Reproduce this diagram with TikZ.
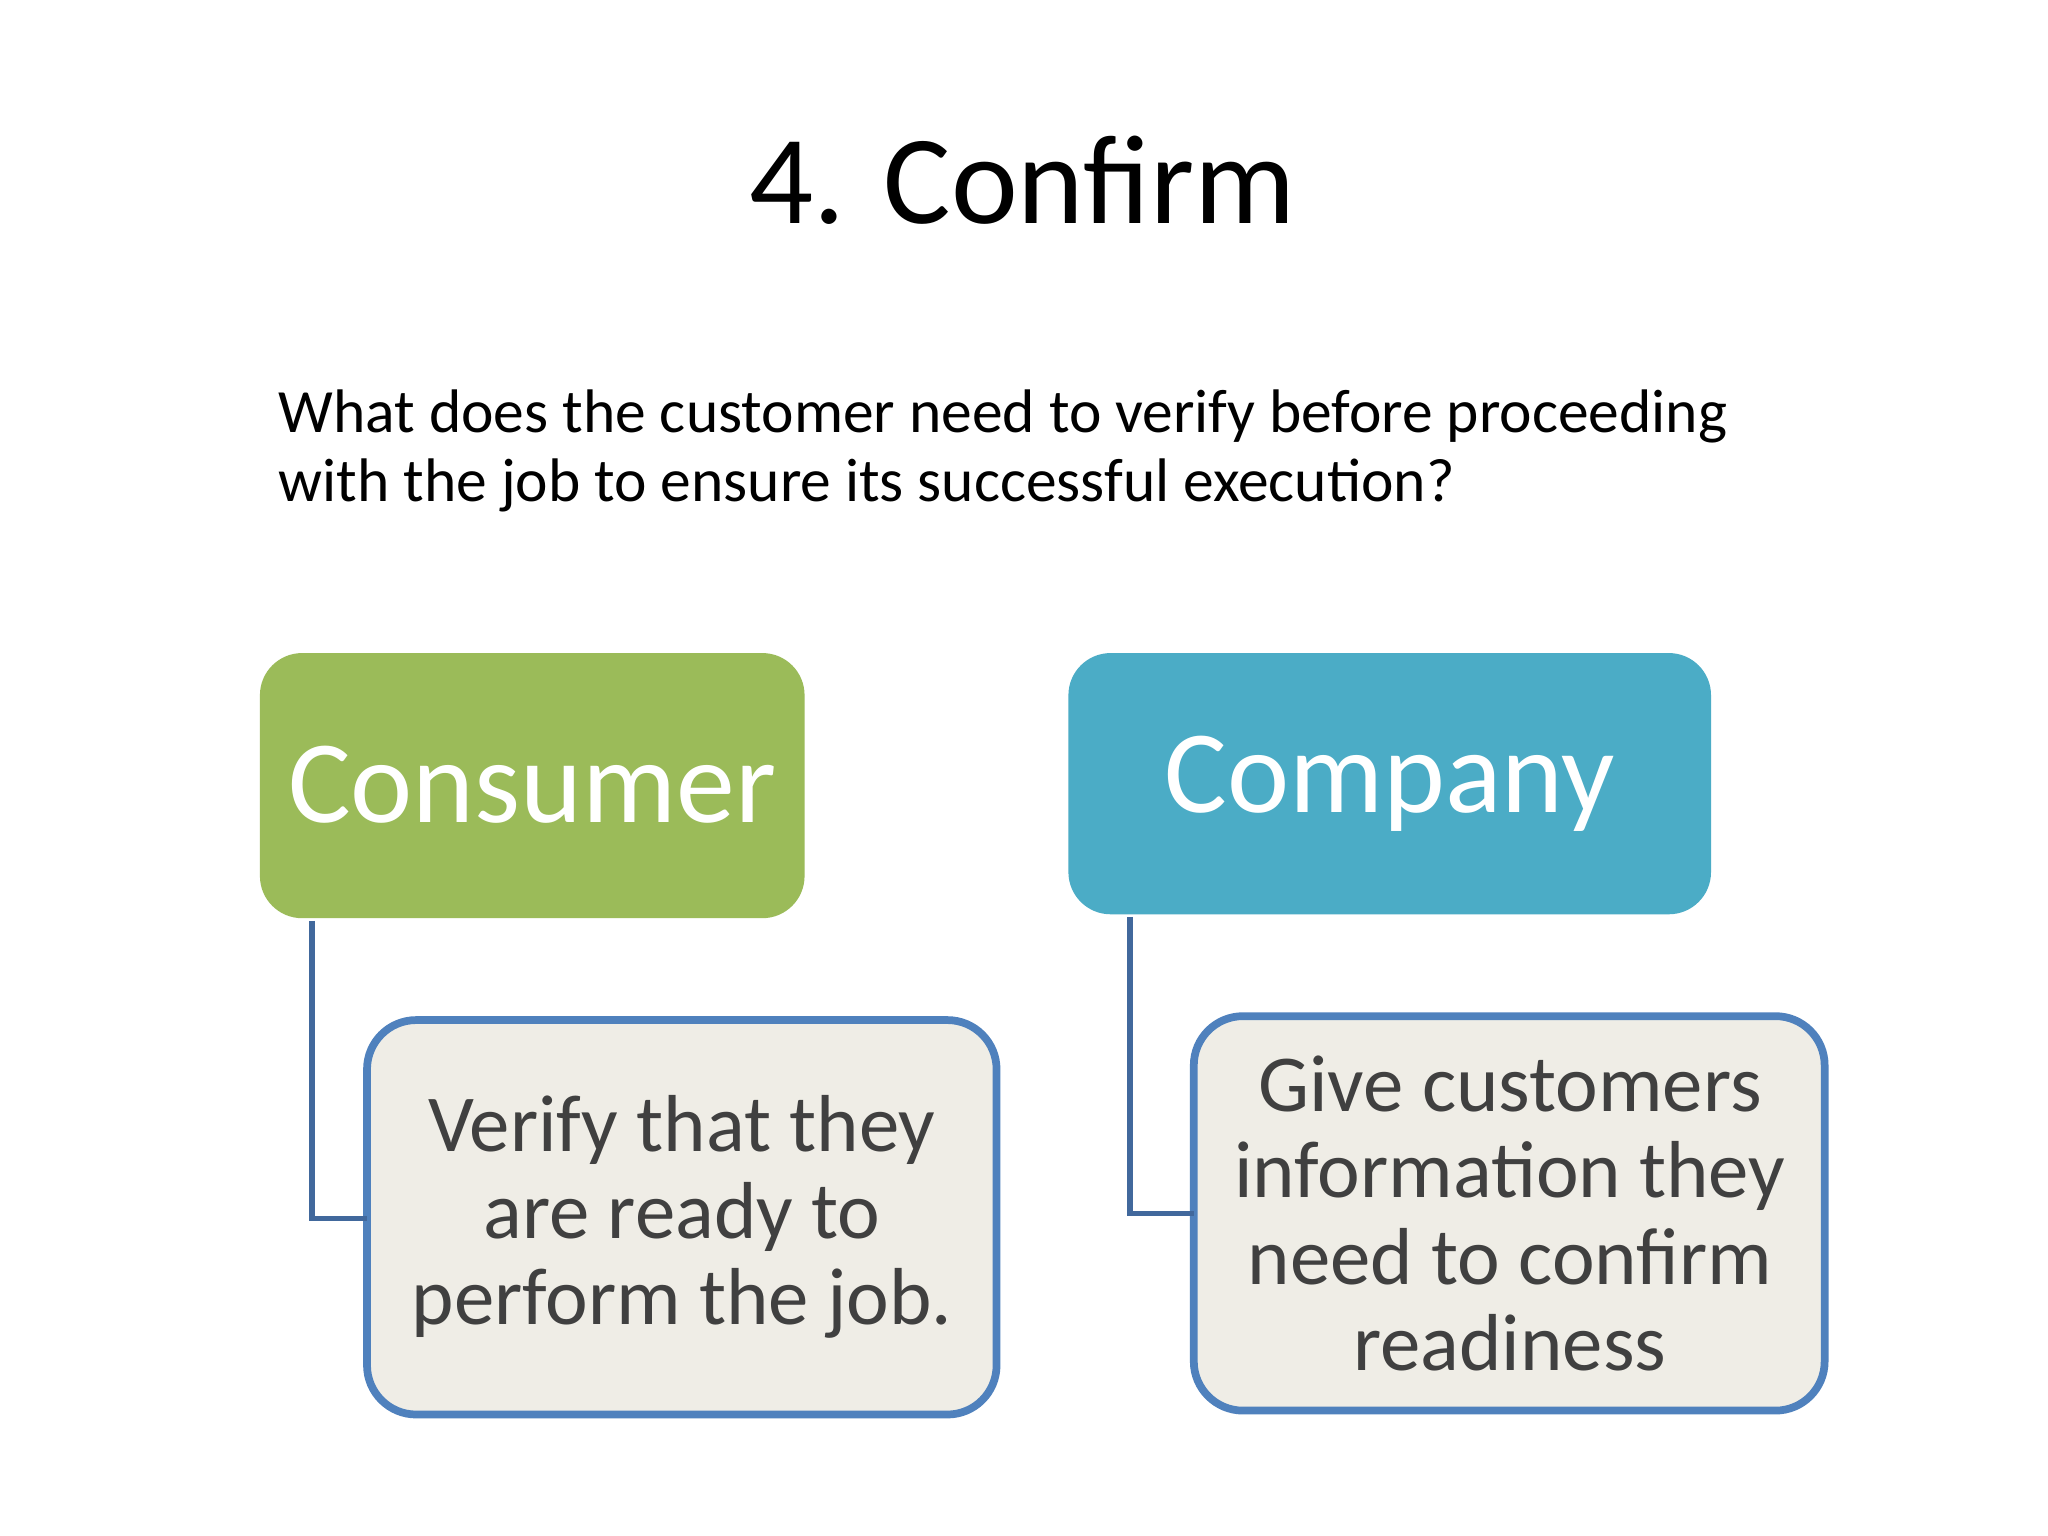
\documentclass[tikz,border=0pt]{standalone}
\usepackage{fontspec}
\setmainfont{Carlito}
\definecolor{cgreen}{HTML}{9BBB59}
\definecolor{cblue}{HTML}{4BACC6}
\definecolor{cfill}{HTML}{EFEDE6}
\definecolor{cborder}{HTML}{4F81BD}
\definecolor{cline}{HTML}{41689C}
\definecolor{ctext}{HTML}{404040}
\begin{document}
\begin{tikzpicture}[x=0.013061cm,y=-0.013061cm,
  head/.style={rounded corners=12pt,text=white,font=\fontsize{33.5}{40}\selectfont,inner sep=0pt},
  sub/.style={rounded corners=14pt,draw=cborder,line width=2.2pt,fill=cfill,text=ctext,align=center,font=\fontsize{23}{24.6}\selectfont,inner sep=0pt},
  conn/.style={draw=cline,line width=1.6pt}]
\useasboundingbox[fill=white] (0,0) rectangle (1568,1176);
\node (title) at (783,138) {\fontsize{36}{40}\selectfont 4. Confirm};
\node[anchor=north west,align=left,inner sep=0pt,font=\fontsize{17.5}{19.5}\selectfont] (q) at (213,298)
 {What does the customer need to verify before proceeding\\with the job to ensure its successful execution?};
\fill[cgreen,rounded corners=12pt] (199,500) rectangle (616,703);
\node[head] (cons) at (407.5,601) {Consumer};
\fill[cblue,rounded corners=12pt] (818,500) rectangle (1310,700);
\node[head] (comp) at (1064,600) {Company};
\draw[sub] (281,781) rectangle (763,1083);
\node[text=ctext,align=center,font=\fontsize{23}{24.6}\selectfont] (ver) at (522,932) {Verify that they\\are ready to\\perform the job.};
\draw[sub] (914,778) rectangle (1397,1080);
\node[text=ctext,align=center,font=\fontsize{23}{24.6}\selectfont] (give) at (1156,929) {Give customers\\information they\\need to confirm\\readiness};
\coordinate (c1) at (239,705); \coordinate (c1b) at (239,933); \coordinate (c1e) at (281,933);
\coordinate (c2) at (865,702); \coordinate (c2b) at (865,929); \coordinate (c2e) at (914,929);
\draw[conn] (c1) -- (c1b) -- (c1e);
\draw[conn] (c2) -- (c2b) -- (c2e);
\end{tikzpicture}
\end{document}
